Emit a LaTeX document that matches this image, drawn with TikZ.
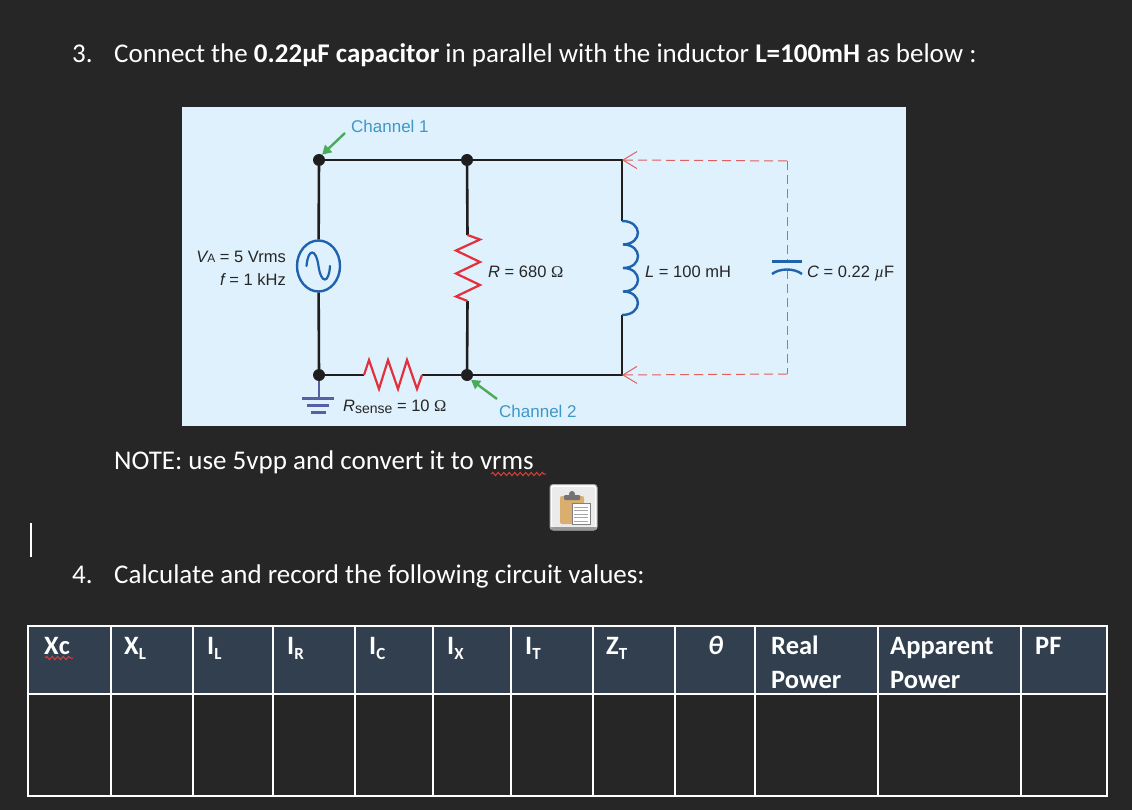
\documentclass[tikz,border=0pt]{standalone}
\usepackage{fontspec}
\setmainfont{Carlito}
\newfontfamily\cirfont{Liberation Sans}
\newfontfamily\serfont{Liberation Serif}
\usetikzlibrary{arrows.meta,shapes.geometric,decorations.pathmorphing}
\definecolor{bgdark}{HTML}{262626}
\definecolor{headfill}{HTML}{323F4F}
\definecolor{panel}{HTML}{DFF1FD}
\definecolor{wire}{HTML}{1E1E1E}
\definecolor{redc}{HTML}{E2303C}
\definecolor{bluec}{HTML}{1F62AE}
\definecolor{greenc}{HTML}{4CAB5B}
\definecolor{chanc}{HTML}{3F97C8}
\definecolor{gndc}{HTML}{5B5EA6}
\definecolor{dashc}{HTML}{E06060}
\definecolor{squig}{HTML}{D8413A}
\definecolor{tan}{HTML}{D9AE6E}
\newcommand{\sbs}[1]{\raisebox{-0.22em}{\fontsize{17}{17}\selectfont #1}}
\newcommand{\txtbig}{\fontsize{27}{32}\selectfont}
\tikzset{
  body/.style={text=white,anchor=base west,inner sep=0pt,font=\txtbig},
  headtxt/.style={text=white,anchor=base west,inner sep=0pt,font=\fontsize{26.5}{32}\selectfont\bfseries},
  cir/.style={text=black!85,inner sep=0pt,anchor=base west,font=\cirfont\fontsize{16.5}{20}\selectfont},
  cirr/.style={cir,anchor=base east},
  chan/.style={cir,text=chanc,font=\cirfont\fontsize{17}{20}\selectfont},
  wirel/.style={draw=wire,line width=2.6pt},
  dot/.style={circle,fill=wire,draw=none,minimum size=12pt,inner sep=0pt},
  grn/.style={draw=greenc,line width=2.4pt,-{Triangle[length=9pt,width=10pt]}},
  dashl/.style={draw=dashc,line width=1pt,dash pattern=on 9pt off 5pt},
  opentip/.style={-{Straight Barb[length=14pt,width=17pt,line width=1pt]}},
  grid/.style={draw=white,line width=2pt},
  squiggle/.style={draw=squig,line width=1pt,decorate,decoration={snake,amplitude=1.6pt,segment length=5.5pt}}
}
\begin{document}
\begin{tikzpicture}[x=1pt,y=-1pt]
\path[use as bounding box,fill=bgdark] (0,0) rectangle (1132,810);

% top text
\node[body] (n3) at (72,63) {3.};
\node[body] (t3) at (114,63) {Connect the \textbf{0.22µF capacitor} in parallel with the inductor \textbf{L=100mH} as below :};

% panel
\fill[panel] (182,107) rectangle (906,426);

% circuit nodes
\node[dot] (j1) at (319,160) {};
\node[dot] (j2) at (467,160) {};
\node[dot] (j3) at (319,375) {};
\node[dot] (j4) at (467,375) {};
\coordinate (c1) at (622,160);
\coordinate (c2) at (622,375);
\node[ellipse,draw=bluec,line width=2.4pt,minimum width=43pt,minimum height=51pt,inner sep=0pt] (src) at (318.5,266) {};
\coordinate (rt) at (467.5,235);
\coordinate (rb) at (467.5,301);
\coordinate (st) at (364,375);
\coordinate (sb) at (422,375);
\coordinate (lt) at (622,221);
\coordinate (lb) at (622,315);
\coordinate (gt) at (319,398);
\coordinate (dtop) at (787,161);
\coordinate (dbot) at (787,374);
\coordinate (ct) at (787,262);
\coordinate (cb) at (787,270);

% wires
\draw[wirel] (j1) -- (j2) -- (c1) -- (lt);
\draw[wirel] (lb) -- (c2) -- (j4);
\draw[wirel] (j1) -- (src);
\draw[wirel] (src) -- (j3);
\draw[wirel] (j2) -- (rt);
\draw[wirel] (rb) -- (j4);
\draw[wirel] (j3) -- (st);
\draw[wirel] (sb) -- (j4);

% sine
\draw[bluec,line width=2.2pt,line cap=round] (306.5,266) .. controls (308,248) and (316,248) .. (318.5,266) .. controls (321,284) and (329,284) .. (330,266);

% R
\draw[redc,line width=2.2pt,line join=miter] (rt) -- (480,239.5) -- (456,250.5) -- (480,262) -- (456,273.5) -- (480,285) -- (456,296.5) -- (rb);
% Rsense
\draw[redc,line width=2.2pt] (st) -- (369,360) -- (379,389) -- (388,360) -- (398,389) -- (407,360) -- (417,389) -- (sb);

% inductor
\draw[bluec,line width=2.4pt] (lt) .. controls (643,221) and (643,244) .. (623,244.5)
  .. controls (643,244.5) and (643,268) .. (623,268)
  .. controls (643,268) and (643,291.5) .. (623,291.5)
  .. controls (643,291.5) and (643,315) .. (lb);

% ground
\draw[gndc,line width=2.6pt] (j3) -- (gt);
\draw[gndc,line width=3pt] (302,398) -- (334,398) (307,405) -- (329,405) (311,412) -- (326,412);

% dashed with capacitor
\draw[dashl,opentip] (dtop) -- (c1);
\draw[dashl,opentip] (dbot) -- (c2);
\draw[dashl] (dtop) -- (ct);
\draw[dashl] (cb) -- (dbot);
\draw[bluec,line width=3pt] (772,262) -- (802,262);
\draw[bluec,line width=2.4pt] (772,274) .. controls (780,268) and (794,268) .. (802,274);

% green arrows
\draw[grn] (345,133) -- (j1.60);
\draw[grn] (497,399) -- (j4.-50);

% circuit labels
\node[chan] (ch1) at (351,133) {Channel 1};
\node[chan] (ch2) at (499,417) {Channel 2};
\node[cirr] (va) at (286,263) {\itshape V\upshape\fontsize{12}{12}\selectfont A\fontsize{16.5}{20}\selectfont\ = 5 Vrms};
\node[cirr] (fk) at (286,286) {\itshape f\upshape\ = 1 kHz};
\node[cir] (rv) at (488,277) {\itshape R\upshape\ = 680 {\serfont Ω}};
\node[cir] (lv) at (645,277) {\itshape L\upshape\ = 100 mH};
\node[cir] (cv) at (807,277) {\itshape C\upshape\ = 0.22 {\serfont\itshape µ}F};
\node[cir] (rs) at (343,411) {\itshape R\upshape\raisebox{-0.15em}{\fontsize{14}{14}\selectfont sense} = 10 {\serfont Ω}};

% note
\node[body] (note) at (114,469) {NOTE: use 5vpp and convert it to vrms};
\draw[squiggle] (491,474) -- (546,474);

% clipboard icon
\draw[fill=white,draw=black!35,line width=1pt,rounded corners=3pt] (550,484.5) rectangle (597,530);
\fill[black!8,rounded corners=2pt] (552,487) rectangle (595,527);
\fill[black!40] (551,527) rectangle (596,530);
\fill[tan,rounded corners=2pt] (560,496) rectangle (584,524);
\fill[black!55,rounded corners=1pt] (564,495) rectangle (580,500);
\fill[black!55] (572,494) circle (3pt);
\draw[fill=white,draw=black!50,line width=.6pt] (572,503) rectangle (590,524);
\foreach \yy in {507,510.5,514,517.5,521}{\draw[black!35,line width=1pt] (574,\yy) -- (588,\yy);}

% cursor
\draw[white,line width=1.5pt] (31,523) -- (31,557);

% heading 4
\node[body] (n4) at (72,583) {4.};
\node[body] (t4) at (114,583) {Calculate and record the following circuit values:};

% table
\fill[headfill] (28,626) rectangle (1107,694);
\draw[grid] (28,626) rectangle (1107,796);
\draw[grid] (28,694) -- (1107,694);
\foreach \xx in {110.5,193,272.5,354.5,433,511,592.5,675,755,877.5,1021}{\draw[grid] (\xx,626) -- (\xx,796);}

\node[headtxt] (h1) at (44,654) {Xc};
\draw[squiggle] (45,658) -- (73,658);
\node[headtxt] (h2) at (124,654) {X\sbs{L}};
\node[headtxt] (h3) at (207,654) {I\sbs{L}};
\node[headtxt] (h4) at (287,654) {I\sbs{R}};
\node[headtxt] (h5) at (369,654) {I\sbs{C}};
\node[headtxt] (h6) at (447,654) {I\sbs{X}};
\node[headtxt] (h7) at (525,654) {I\sbs{T}};
\node[headtxt] (h8) at (606,654) {Z\sbs{T}};
\node[headtxt,font=\fontsize{26.5}{32}\selectfont\bfseries\itshape] (h9) at (708,654) {θ};
\node[headtxt] (h10) at (771,654) {Real};
\node[headtxt] (h11) at (771,688) {Power};
\node[headtxt] (h12) at (890,654) {Apparent};
\node[headtxt] (h13) at (890,688) {Power};
\node[headtxt] (h14) at (1035,654) {PF};
\end{tikzpicture}
\end{document}
